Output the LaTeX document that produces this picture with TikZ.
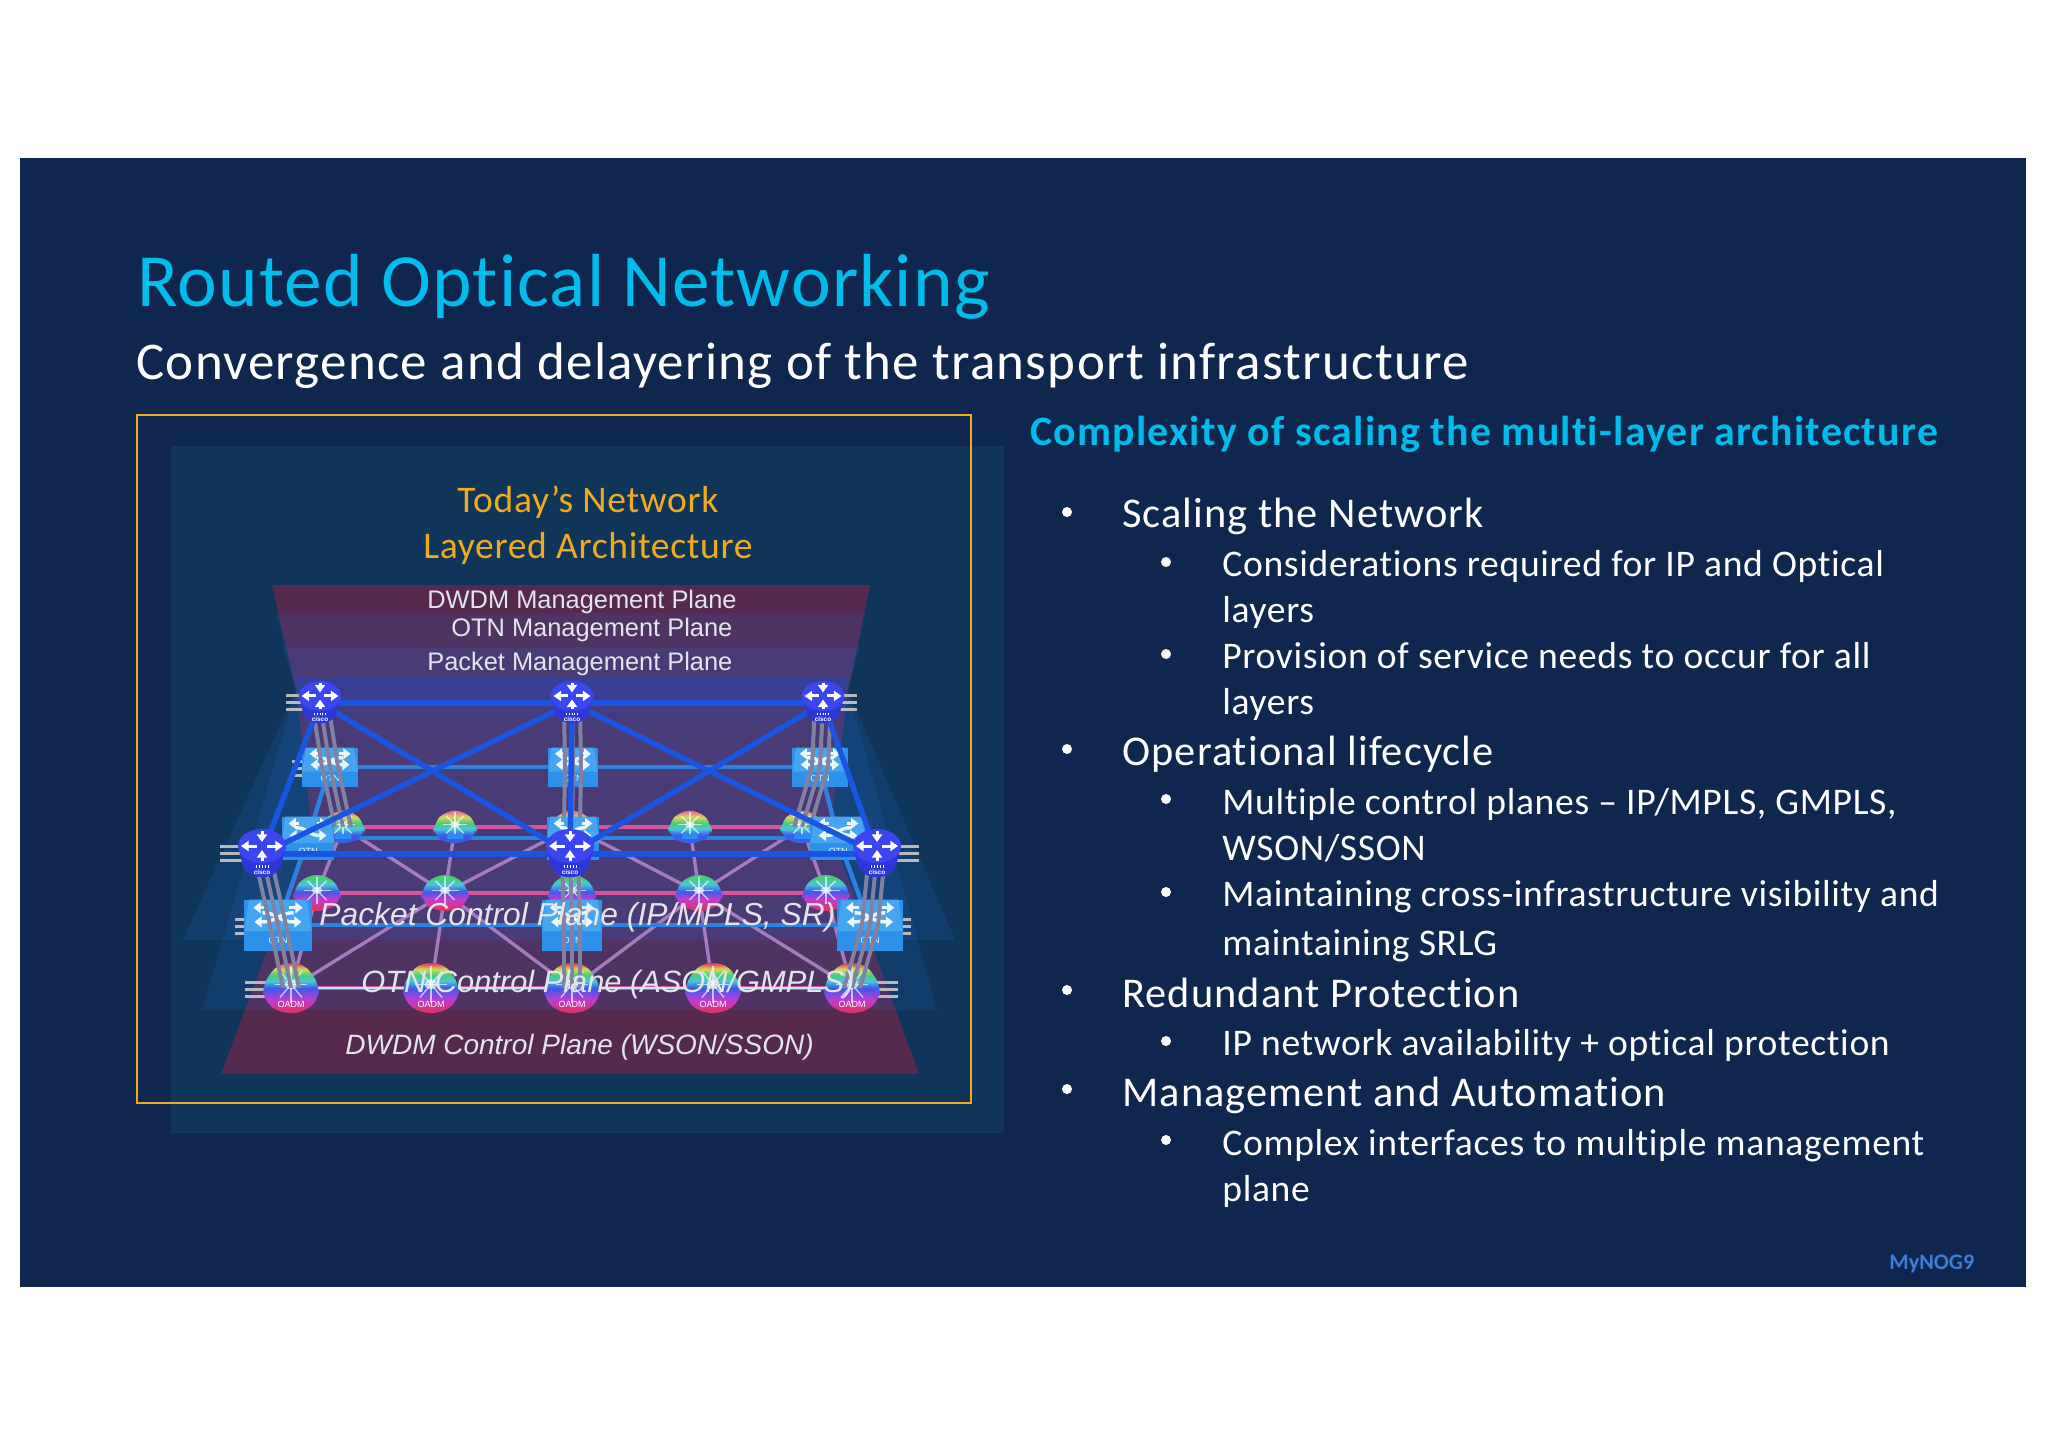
\documentclass[tikz,border=0pt]{standalone}
\usepackage{fontspec}
\setmainfont[Ligatures=NoCommon]{Carlito}
\newfontfamily\labelfont{Liberation Sans}
\usetikzlibrary{arrows.meta,fadings}
\definecolor{slidebg}{RGB}{15,38,78}
\definecolor{panelbg}{RGB}{15,53,88}
\definecolor{cyantitle}{RGB}{0,188,235}
\definecolor{goldline}{RGB}{240,170,30}
\definecolor{footerblue}{RGB}{60,125,215}
\definecolor{wallred}{RGB}{86,41,78}
\definecolor{overlayblue}{RGB}{40,110,220}
\definecolor{routerbody}{RGB}{45,55,215}
\definecolor{routertop}{RGB}{60,70,240}
\definecolor{otnfront}{RGB}{45,145,235}
\definecolor{otntop}{RGB}{70,165,240}
\definecolor{linkblue}{RGB}{25,85,225}
\definecolor{otnlink}{RGB}{45,130,225}
\definecolor{pinklink}{RGB}{215,85,155}
\definecolor{diaglink}{RGB}{165,125,190}
\definecolor{graylink}{RGB}{130,130,160}
\definecolor{planetext}{RGB}{228,228,236}
\definecolor{rred}{RGB}{225,50,85}
\definecolor{rpink}{RGB}{225,110,150}
\definecolor{rmag}{RGB}{190,60,210}
\definecolor{rblue}{RGB}{60,90,235}
\definecolor{rcyan}{RGB}{70,200,220}
\definecolor{rgreen}{RGB}{70,205,120}
\definecolor{ryel}{RGB}{215,215,90}
\pgfdeclareverticalshading{rainbowback}{100bp}{
 color(0bp)=(rblue);color(25bp)=(rblue);color(38bp)=(rblue);
 color(47bp)=(rcyan);color(56bp)=(rgreen);color(65bp)=(ryel);color(74bp)=(rpink);color(100bp)=(rpink)}
\pgfdeclareverticalshading{rainbowmid}{100bp}{
 color(0bp)=(rred);color(25bp)=(rred);color(42bp)=(rmag);color(52bp)=(rblue);
 color(62bp)=(rcyan);color(70bp)=(rgreen);color(100bp)=(rgreen)}
\pgfdeclareverticalshading{rainbowfront}{100bp}{
 color(0bp)=(rred);color(25bp)=(rred);color(38bp)=(rmag);color(50bp)=(rblue);
 color(57bp)=(rcyan);color(63bp)=(rgreen);color(69bp)=(ryel);color(75bp)=(rred);color(100bp)=(rred)}
\tikzset{
 x=0.5pt,y=-0.5pt,
 txt/.style={anchor=base west,inner sep=0pt,text=white},
 lone/.style={txt,font=\addfontfeature{LetterSpace=2.5}\fontsize{21.2}{24}\selectfont},
 ltwo/.style={txt,font=\addfontfeature{LetterSpace=1.75}\fontsize{18.8}{22}\selectfont},
 bulletdot/.style={circle,fill=white,inner sep=0pt,minimum size=5pt},
 planelabel/.style={anchor=base west,inner sep=0pt,text=planetext,font=\labelfont\fontsize{12.7}{16}\selectfont},
 ctrllabel/.style={anchor=base west,inner sep=0pt,text=planetext,font=\labelfont\itshape\fontsize{#1}{16}\selectfont},
 goldlabel/.style={anchor=base,inner sep=0pt,text=goldline,font=\addfontfeature{LetterSpace=1.8}\fontsize{18.8}{22}\selectfont},
 blinkline/.style={linkblue,line width=2.7pt},
 otnline/.style={otnlink,line width=2.2pt},
 pinkline/.style={pinklink,line width=2.4pt},
 diagline/.style={diaglink,line width=1.7pt},
 grayline/.style={graylink,line width=2pt},
 portline/.style={gray!55!white,line width=1.5pt},
 whitearrow/.style={white,line width=1.5pt,-{Triangle[length=3.8pt,width=5pt]}},
 otnarrow/.style={white!92!cyan,line width=1.7pt,-{Triangle[length=3.6pt,width=5.4pt]}},
 devicetext/.style={inner sep=0pt,text=white!90!cyan,font=\labelfont\fontsize{4.5}{5}\selectfont},
 logotext/.style={inner sep=0pt,text=white,font=\labelfont\bfseries\fontsize{3.2}{4}\selectfont},
}
\newcommand{\routerdev}[2]{%
 \begin{scope}[shift={(#1)},scale=#2]
  \fill[routerbody] (-24,-8) -- (-19,12) .. controls (-13,27) and (13,27) .. (19,12) -- (24,-8) -- cycle;
  \fill[routertop] (0,-8) ellipse [x radius=24,y radius=17];
  \draw[whitearrow] (-5,-8) -- (-21,-8);
  \draw[whitearrow] (5,-8) -- (21,-8);
  \draw[whitearrow] (0,-23) -- (0,-12);
  \draw[whitearrow] (0,7) -- (0,-4);
  \foreach \b in {-6,-3,0,3,6}{\draw[white,line width=.45pt] (\b,11) -- (\b,14);}
  \node[logotext] at (0,18) {cisco};
 \end{scope}}
\newcommand{\otndev}[3]{%
 \begin{scope}[shift={(#1)},xscale=#2,yscale=#3]
  \fill[otnfront] (-30,-25) rectangle (30,25);
  \fill[otntop] (-26,-25) -- (26,-25) -- (30,6) -- (-30,6) -- cycle;
  \draw[otnarrow] (-14,-12) .. controls (0,-12) and (0,-3) .. (21,-3);
  \draw[otnarrow] (14,-12) .. controls (0,-12) and (0,-3) .. (-21,-3);
  \draw[otnarrow] (-10,-17) -- (-22,-17);
  \draw[otnarrow] (10,-17) -- (22,-17);
  \node[devicetext] at (0,15) {OTN};
 \end{scope}}
\newcommand{\roadmdev}[4]{%
 \begin{scope}[shift={(#1)},#2]
  \shade[shading=#3,rounded corners=5pt] (-12,-20) -- (12,-20) -- (27,-3) -- (26,10) -- (11,20) -- (-11,20) -- (-26,10) -- (-27,-3) -- cycle;
  \foreach \a in {0,45,...,315}{\draw[white,opacity=.65,line width=.7pt] (0,-3) -- ++(\a:15);}
  \fill[white,opacity=.6] (0,-3) ellipse [x radius=6,y radius=4];
  #4
 \end{scope}}
\begin{document}
\begin{tikzpicture}
\useasboundingbox (0,0) rectangle (2048,1448);
\fill[white] (0,0) rectangle (2048,1448);
\fill[slidebg] (20,158) rectangle (2026,1287);
\fill[panelbg] (171,446) rectangle (1004,1133);
% planes
\fill[wallred] (272,585) -- (870,585) -- (848,690) -- (830,830) -- (919,1074) -- (221,1074) -- (312,830) -- (296,690) -- cycle;
\fill[overlayblue,opacity=.15] (276,613) -- (866,613) -- (848,690) -- (937,1010) -- (202,1010) -- (296,690) -- cycle;
\fill[overlayblue,opacity=.15] (282,647) -- (860,647) -- (848,690) -- (955,940) -- (183,940) -- (296,690) -- cycle;
\fill[blue!70!cyan,opacity=.28,path fading=south] (296,678) rectangle (848,725);
% coordinates of the devices
\coordinate (rb1) at (320,703);\coordinate (rb2) at (572,703);\coordinate (rb3) at (823,703);
\coordinate (ob1) at (330,767);\coordinate (ob2) at (573,767);\coordinate (ob3) at (820,767);
\coordinate (mb1) at (343,827);\coordinate (mb2) at (455,827);\coordinate (mb3) at (572,827);\coordinate (mb4) at (690,827);\coordinate (mb5) at (802,827);
\coordinate (om1) at (308,838);\coordinate (om2) at (573,838);\coordinate (om3) at (838,838);
\coordinate (rf1) at (262,854);\coordinate (rf2) at (570,854);\coordinate (rf3) at (877,854);
\coordinate (mf1) at (317,893);\coordinate (mf2) at (445,893);\coordinate (mf3) at (572,893);\coordinate (mf4) at (699,893);\coordinate (mf5) at (826,893);
\coordinate (of1) at (278,925);\coordinate (of2) at (572,925);\coordinate (of3) at (870,925);
\coordinate (bf1) at (291,988);\coordinate (bf2) at (431,988);\coordinate (bf3) at (572,988);\coordinate (bf4) at (713,988);\coordinate (bf5) at (852,988);
% ports
\foreach \d in {0,7,14}{
 \draw[portline] ([yshift=-\d*0.5pt+4pt]rb1) -- ++(-34,0);
 \draw[portline] ([yshift=-\d*0.5pt+4pt]rb3) -- ++(34,0);
 \draw[portline] ([yshift=-\d*0.5pt+4pt]rf1) -- ++(-42,0);
 \draw[portline] ([yshift=-\d*0.5pt+4pt]rf3) -- ++(42,0);
 \draw[portline] ([yshift=-\d*0.5pt+3pt]ob1) -- ++(-38,0);
 \draw[portline] ([yshift=-\d*0.5pt+3pt]of1) -- ++(-43,0);
 \draw[portline] ([yshift=-\d*0.5pt+3pt]of3) -- ++(41,0);
 \draw[portline] ([yshift=-\d*0.5pt+3pt]bf1) -- ++(-46,0);
 \draw[portline] ([yshift=-\d*0.5pt+3pt]bf5) -- ++(46,0);
}
% ROADM layer: back links
\draw[pinkline] (mb1) -- (mb5);
\draw[diagline] (mb1) -- (mf2);\draw[diagline] (mb2) -- (mf2);\draw[diagline] (mb3) -- (mf2);
\draw[diagline] (mb3) -- (mf4);\draw[diagline] (mb4) -- (mf4);\draw[diagline] (mb5) -- (mf4);
\draw[diagline] (mb1) -- (mf1);\draw[diagline] (mb5) -- (mf5);
\draw[pinkline] (mf1) -- (mf5);
\draw[diagline] (mf2) -- (bf1);\draw[diagline] (mf2) -- (bf2);\draw[diagline] (mf2) -- (bf3);
\draw[diagline] (mf4) -- (bf3);\draw[diagline] (mf4) -- (bf4);\draw[diagline] (mf4) -- (bf5);
\draw[diagline] (mf1) -- (bf1);\draw[diagline] (mf5) -- (bf5);
\draw[pinkline] (bf1) -- (bf5);
\draw[white!75!cyan,line width=.7pt] (bf1) -- (bf5);
% OTN layer: back links
\draw[otnline] (ob1) -- (ob3);
\draw[otnline] (om1) -- (om3);
\draw[otnline] (ob1) -- (om1);\draw[otnline] (ob3) -- (om3);
\draw[otnline] (om1) -- (of1);\draw[otnline] (om3) -- (of3);
% back ROADM devices
\foreach \c in {mb1,mb2,mb3,mb4,mb5}{\roadmdev{\c}{scale=.82}{rainbowback}{\fill[rblue!70!cyan] (-10,9) rectangle (10,15);}}
\foreach \c in {mf1,mf2,mf3,mf4,mf5}{\roadmdev{\c}{scale=.9}{rainbowmid}{}}
% back OTN
\otndev{ob1}{.93}{.78}
\otndev{ob2}{.82}{.78}
\otndev{ob3}{.92}{.78}
% gray links from back row
\foreach \d in {-8,0,8}{
 \draw[grayline] ([xshift=\d*0.5pt]rb1) -- ([xshift=\d*0.5pt]ob1);
 \draw[grayline] ([xshift=\d*0.5pt]rb2) -- ([xshift=\d*0.5pt]ob2);
 \draw[grayline] ([xshift=\d*0.5pt]rb3) -- ([xshift=\d*0.5pt]ob3);
 \draw[grayline] ([xshift=\d*0.5pt]ob1) -- ([xshift=\d*0.5pt]mb1);
 \draw[grayline] ([xshift=\d*0.5pt]ob2) -- ([xshift=\d*0.5pt]mb3);
 \draw[grayline] ([xshift=\d*0.5pt]ob3) -- ([xshift=\d*0.5pt]mb5);
}
\otndev{om1}{.88}{.86}
\otndev{om2}{.88}{.86}
\otndev{om3}{.92}{.86}
% router layer links
\draw[blinkline] (rb1) -- (rb3);
\draw[blinkline] (rf1) -- (rf3);
\draw[blinkline] (rb1) -- (rf1);\draw[blinkline] (rb3) -- (rf3);
\draw[blinkline] (rb1) -- (rf2);\draw[blinkline] (rb3) -- (rf2);
\draw[blinkline] (rb2) -- (rf1);\draw[blinkline] (rb2) -- (rf3);
\draw[blinkline] (rb2) -- (rf2);
\routerdev{rb1}{.88}
\routerdev{rb2}{.88}
\routerdev{rb3}{.88}
% front OTN line and lower gray links
\draw[otnline] (of1) -- (of3);
\otndev{of1}{1.12}{1.02}
\otndev{of2}{1}{1.02}
\otndev{of3}{1.1}{1.02}
\foreach \c in {bf1,bf2,bf3,bf4,bf5}{\roadmdev{\c}{xscale=1.05,yscale=1.25}{rainbowfront}{\node[devicetext,text=white] at (0,13) {OADM};}}
\foreach \d in {-8,0,8}{
 \draw[grayline] ([xshift=\d*0.5pt]rf1) -- ([xshift=\d*0.5pt]of1);
 \draw[grayline] ([xshift=\d*0.5pt]rf2) -- ([xshift=\d*0.5pt]of2);
 \draw[grayline] ([xshift=\d*0.5pt]rf3) -- ([xshift=\d*0.5pt]of3);
 \draw[grayline] ([xshift=\d*0.5pt]of1) -- ([xshift=\d*0.5pt]bf1);
 \draw[grayline] ([xshift=\d*0.5pt]of2) -- ([xshift=\d*0.5pt]bf3);
 \draw[grayline] ([xshift=\d*0.5pt]of3) -- ([xshift=\d*0.5pt]bf5);
}
\routerdev{rf1}{1}
\routerdev{rf2}{1}
\routerdev{rf3}{1}
% gold frame
\draw[goldline,line width=.9pt] (137,415) rectangle (971,1103);
% image labels
\node[goldlabel] (g1) at (588,512) {Today’s Network};
\node[goldlabel] (g2) at (588,558) {Layered Architecture};
\node[planelabel] (p1) at (427,608) {DWDM Management Plane};
\node[planelabel] (p2) at (451,636) {OTN Management Plane};
\node[planelabel] (p3) at (427,670) {Packet Management Plane};
\node[ctrllabel=15.9] (c1) at (319,925) {Packet Control Plane (IP/MPLS, SR)};
\node[ctrllabel=15.4] (c2) at (361,992) {OTN Control Plane (ASON/GMPLS)};
\node[ctrllabel=14] (c3) at (345,1054) {DWDM Control Plane (WSON/SSON)};
% titles
\node[txt,text=cyantitle,font=\addfontfeature{LetterSpace=1.6}\fontsize{37.6}{42}\selectfont] (title) at (137,306) {Routed Optical Networking};
\node[txt,font=\addfontfeature{LetterSpace=2.4}\fontsize{26.5}{30}\selectfont] (sub) at (136,379) {Convergence and delayering of the transport infrastructure};
\node[txt,text=cyantitle,font=\bfseries\addfontfeature{LetterSpace=2.95}\fontsize{20.9}{24}\selectfont] (head) at (1030,445) {Complexity of scaling the multi-layer architecture};
% bullets
\node[bulletdot] at (1067,512) {};
\node[lone] at (1122,527) {Scaling the Network};
\node[bulletdot] at (1166,562) {};
\node[ltwo] at (1222,576) {Considerations required for IP and Optical};
\node[ltwo] at (1222,622) {layers};
\node[bulletdot] at (1166,654) {};
\node[ltwo] at (1222,668) {Provision of service needs to occur for all};
\node[ltwo] at (1222,714) {layers};
\node[bulletdot] at (1067,749) {};
\node[lone] at (1122,765) {Operational lifecycle};
\node[bulletdot] at (1166,799) {};
\node[ltwo] at (1222,814) {Multiple control planes – IP/MPLS, GMPLS,};
\node[ltwo] at (1222,860) {WSON/SSON};
\node[bulletdot] at (1166,892) {};
\node[ltwo] at (1222,906) {Maintaining cross-infrastructure visibility and};
\node[ltwo] at (1222,955) {maintaining SRLG};
\node[bulletdot] at (1067,990) {};
\node[lone] at (1122,1007) {Redundant Protection};
\node[bulletdot] at (1166,1041) {};
\node[ltwo] at (1222,1055) {IP network availability + optical protection};
\node[bulletdot] at (1067,1089) {};
\node[lone] at (1122,1106) {Management and Automation};
\node[bulletdot] at (1166,1140) {};
\node[ltwo] at (1222,1155) {Complex interfaces to multiple management};
\node[ltwo] at (1222,1201) {plane};
\node[txt,text=footerblue,font=\bfseries\fontsize{11.1}{12}\selectfont] (foot) at (1889,1269) {MyNOG9};
\end{tikzpicture}
\end{document}
